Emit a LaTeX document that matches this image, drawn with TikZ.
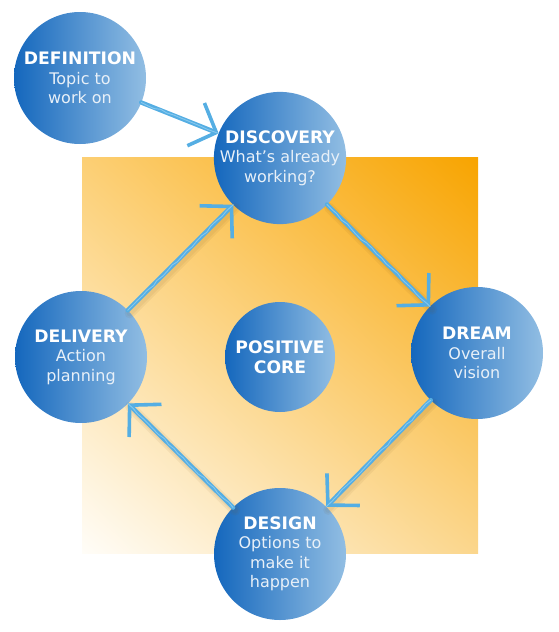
\documentclass[tikz,border=0pt]{standalone}
\usepackage{fontspec}
\setmainfont{DejaVu Sans}
\usetikzlibrary{arrows.meta,decorations.pathmorphing,shadings}
\definecolor{bluedark}{HTML}{1467BD}
\definecolor{bluemid}{HTML}{3C88CA}
\definecolor{bluelight}{HTML}{92BEE3}
\definecolor{sky}{HTML}{55AEE3}
\definecolor{skypale}{HTML}{86C8EE}
\definecolor{bodytext}{HTML}{E8F0F8}
\definecolor{orangehot}{HTML}{F8A400}
\definecolor{orangemidA}{HTML}{FCCF74}
\definecolor{orangemidB}{HTML}{FBD68C}
\definecolor{cream}{HTML}{FFFDF8}
\definecolor{shadowbrown}{HTML}{7A5520}
\newcommand{\phasetitle}[1]{{\fontsize{17.2}{20}\selectfont\bfseries #1}}

\begin{document}
\begin{tikzpicture}[
  x=1pt, y=-1pt,
  line join=round, line cap=round,
  phase/.style={circle, minimum size=132pt, inner sep=0pt, outer sep=0pt,
    left color=bluedark, middle color=bluemid, right color=bluelight,
    text=bodytext, align=center, font=\fontsize{16}{19.5}\selectfont},
  core/.style={phase, minimum size=110pt, text=white},
  sketch/.style={draw=sky, line width=4.4pt,
    -{Straight Barb[length=22pt, width=46pt, line width=3.6pt]}},
  sketchy/.style={draw=skypale, line width=0.9pt, decorate,
    decoration={random steps, segment length=7pt, amplitude=0.9pt}},
  haze/.style={draw=shadowbrown, line width=#1, opacity=0.07,
    transform canvas={xshift=2pt, yshift=-3pt}},
]
\useasboundingbox (0,0) rectangle (558,632);

% ── the square behind the cycle ───────────────────────────────────────────
\shade[upper right=orangehot, lower left=cream,
       upper left=orangemidA, lower right=orangemidB]
  (82,553) rectangle (478,157);

% ── the phases ────────────────────────────────────────────────────────────
\node[phase] (definition) at (80,78)  {\phasetitle{\color{white}DEFINITION}\\Topic to\\work on};
\node[phase] (discovery)  at (280,158) {\phasetitle{\color{white}DISCOVERY}\\What’s already\\working?};
\node[phase] (dream)      at (477,353) {\phasetitle{\color{white}DREAM}\\Overall\\vision};
\node[phase] (design)     at (280,554) {\phasetitle{\color{white}DESIGN}\\Options to\\make it\\happen};
\node[phase] (delivery)   at (81,357)  {\phasetitle{\color{white}DELIVERY}\\Action\\planning};
\node[core]  (core)       at (280,357) {\phasetitle{POSITIVE}\\\phasetitle{CORE}};

% ── soft shadow under the shafts ──────────────────────────────────────────
\foreach \w in {10pt,6pt} {
  \draw[haze=\w] (discovery) -- (dream);
  \draw[haze=\w] (dream) -- (design);
  \draw[haze=\w] (design) -- (delivery);
  \draw[haze=\w] (delivery) -- (discovery);
}

% ── the arrows, drawn by hand ─────────────────────────────────────────────
\draw[sketch] (definition) -- (discovery);
\draw[sketch] (discovery) -- (dream);
\draw[sketch] (dream) -- (design);
\draw[sketch] (design) -- (delivery);
\draw[sketch] (delivery) -- (discovery);

\draw[sketchy] (definition) -- (discovery);
\draw[sketchy] (discovery) -- (dream);
\draw[sketchy] (dream) -- (design);
\draw[sketchy] (design) -- (delivery);
\draw[sketchy] (delivery) -- (discovery);

\end{tikzpicture}
\end{document}
